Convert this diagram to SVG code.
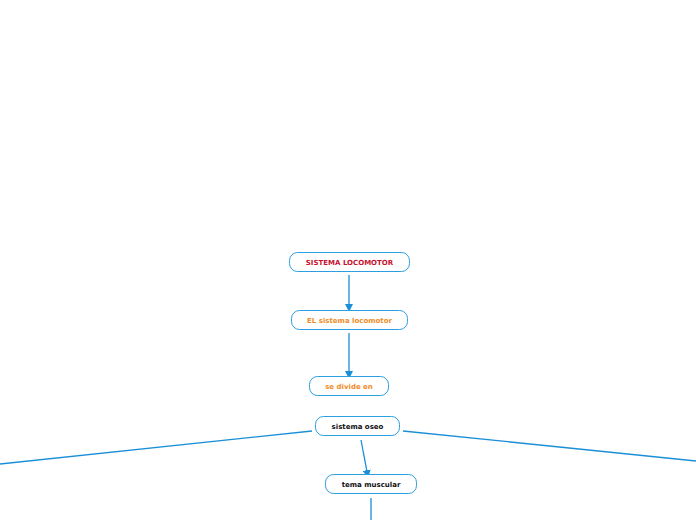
<svg xmlns="http://www.w3.org/2000/svg" width="696" height="520" viewBox="0 0 696 520">
<style>
.n{fill:#fff;stroke:#2b9fe0;stroke-width:1}
.t{font-family:"DejaVu Sans",Verdana,sans-serif;font-size:7px;font-weight:bold;text-anchor:middle}
.c{stroke:#1a8fd8;stroke-width:1.3;fill:none}
</style>
<defs><marker id="a" markerWidth="8" markerHeight="8" refX="7" refY="4" orient="auto" markerUnits="userSpaceOnUse"><path d="M0,0L8,4L0,8z" fill="#1a8fd8"/></marker></defs>
<rect width="696" height="520" fill="#fff"/>
<g id="connectors">
<line class="c" x1="349" y1="275" x2="349" y2="311" marker-end="url(#a)"/>
<line class="c" x1="349" y1="333" x2="349" y2="378" marker-end="url(#a)"/>
<line class="c" x1="361" y1="440" x2="368" y2="477" marker-end="url(#a)"/>
<line class="c" x1="312" y1="431" x2="0" y2="464"/>
<line class="c" x1="403" y1="431" x2="696" y2="461"/>
<line class="c" x1="371" y1="498" x2="371" y2="520"/>
</g>
<g id="n1"><rect class="n" x="289.500" y="252.500" width="120" height="19" rx="8"/><text class="t" x="349.500" y="264.500" fill="#c8102e">SISTEMA LOCOMOTOR</text></g>
<g id="n2"><rect class="n" x="291.500" y="310.500" width="116" height="19" rx="8"/><text class="t" x="349.500" y="322.500" fill="#f28c28">EL sistema locomotor</text></g>
<g id="n3"><rect class="n" x="309.500" y="376.500" width="79" height="19" rx="8"/><text class="t" x="349" y="388.500" fill="#f28c28">se divide en</text></g>
<g id="n4"><rect class="n" x="315.500" y="416.500" width="84" height="19" rx="8"/><text class="t" x="357.500" y="428.500" fill="#111">sistema oseo</text></g>
<g id="n5"><rect class="n" x="325.500" y="474.500" width="91" height="19" rx="8"/><text class="t" x="371" y="486.500" fill="#111">tema muscular</text></g>
</svg>
